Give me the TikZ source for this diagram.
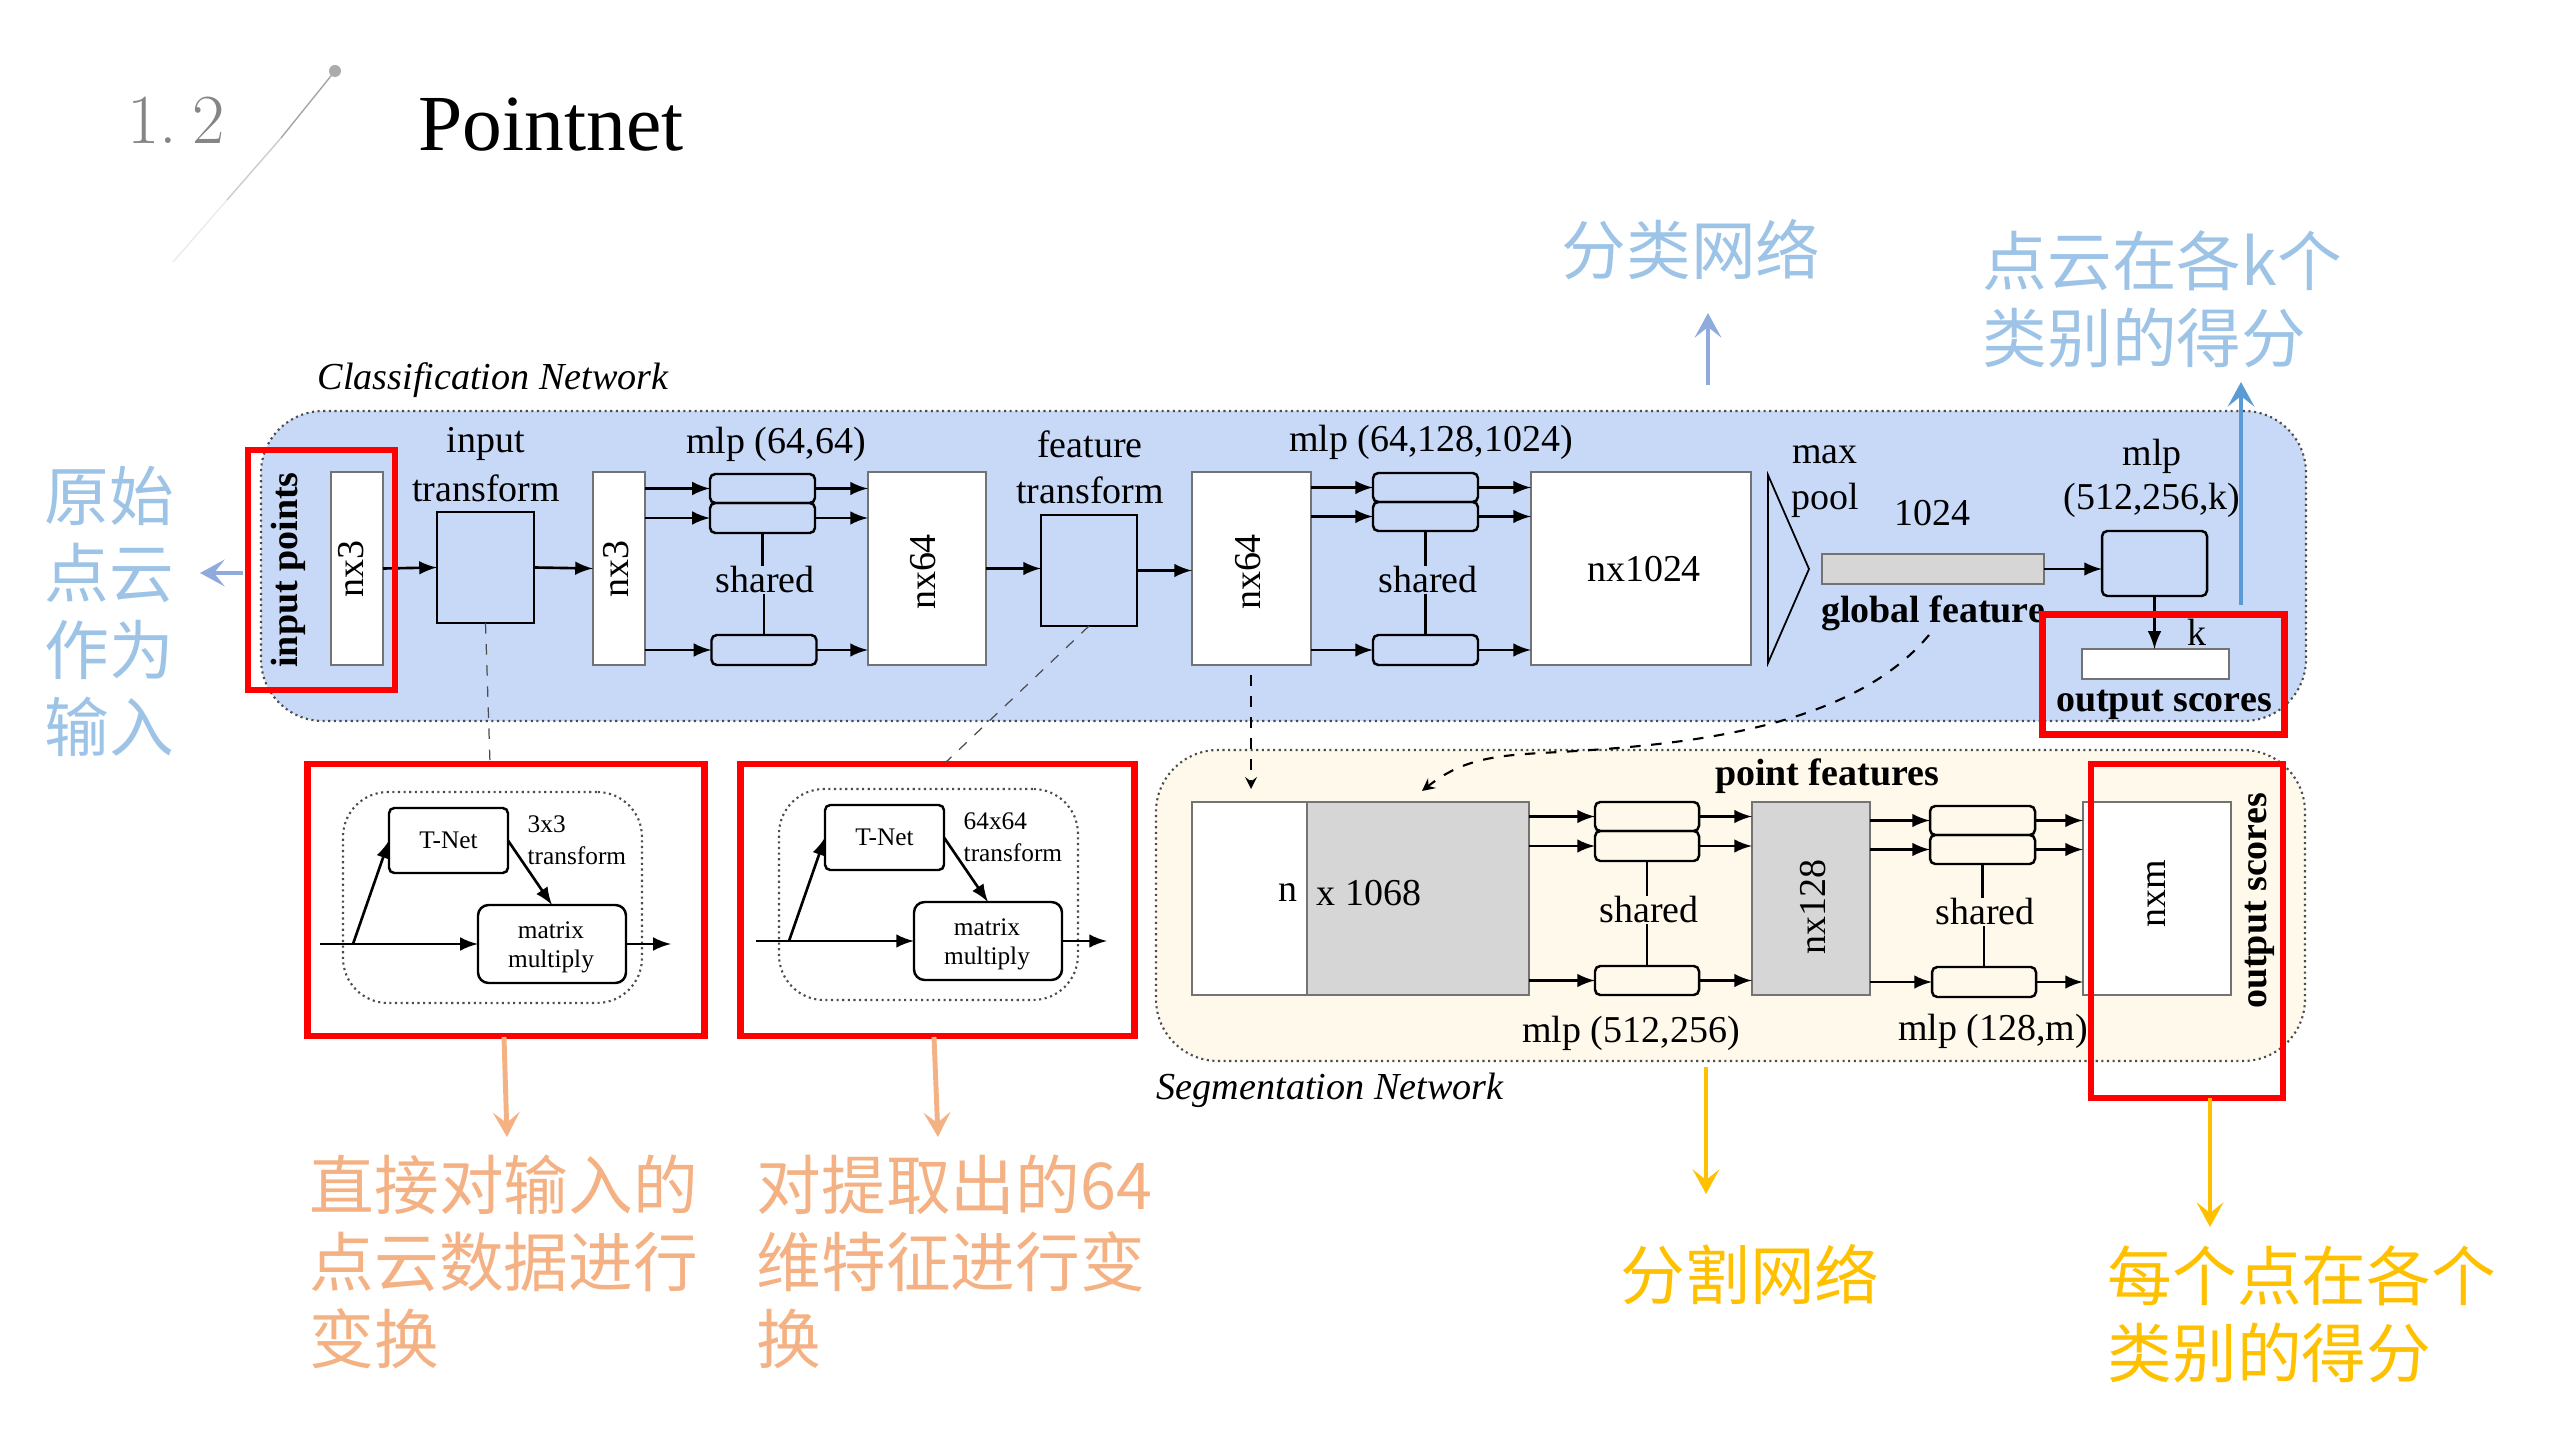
\documentclass[tikz,border=0pt]{standalone}
\usepackage{fontspec}
\usetikzlibrary{arrows.meta}
\setmainfont{Liberation Serif}
\newfontfamily\cjk{Noto Sans CJK SC}
\newfontfamily\lmfam[WordSpace=0.35]{Latin Modern Roman}
\definecolor{panelblue}{HTML}{C8D9F7}
\definecolor{panelcream}{HTML}{FFF9EC}
\definecolor{barygray}{HTML}{D6D6D6}
\definecolor{skyblue}{HTML}{9DC3E6}
\definecolor{arrowblue}{HTML}{8FAADC}
\definecolor{strongblue}{HTML}{5B9BD5}
\definecolor{peach}{HTML}{F4B183}
\definecolor{amber}{HTML}{FFC000}
\tikzset{
  wh/.style n args={2}{minimum width=#1*0.01cm, minimum height=#2*0.01cm, inner sep=0pt, outer sep=0pt},
  lbl/.style={font=\fontsize{10.8}{12}\selectfont, inner sep=0pt},
  lblb/.style={font=\bfseries\fontsize{10.8}{12}\selectfont, inner sep=0pt},
  lbli/.style={font=\itshape\fontsize{10.85}{12}\selectfont, inner sep=0pt},
  lbls/.style={font=\fontsize{7.2}{8}\selectfont, inner sep=0pt},
  blk/.style={draw=black!55, line width=0.7pt, fill=white},
  mlp/.style={draw=black, line width=0.7pt, rounded corners=1.5pt},
  panel/.style={draw=black!70, densely dotted, line width=0.6pt, rounded corners=0.62cm},
  redbox/.style={draw=red, line width=1.8pt},
  arr/.style={-latex, line width=0.75pt},
  dlink/.style={dashed, line width=0.35pt, draw=black!70},
  cn/.style={font=\cjk\fontsize{18.4}{21.9}\selectfont, align=left, inner sep=0pt, anchor=west},
  up/.style={-{Stealth[length=7pt, width=7.6pt, inset=3pt]}, line width=1.4pt}
}
\begin{document}
\begin{tikzpicture}[x=0.01cm, y=-0.01cm]
\useasboundingbox (0,0) rectangle (2560,1440);
%title
\draw[black!35, line width=0.4pt] (335,71) -- (281,138);
\draw[black!20, line width=0.4pt] (281,138) -- (227,200);
\draw[black!8, line width=0.4pt] (227,200) -- (173,262);
\fill[black!33] (335,71) circle (6);
\node[font=\lmfam\fontsize{20}{22}\selectfont, text=black!48, inner sep=0pt] (num) at (176,120) {1. 2};
\node[font=\fontsize{22.6}{24}\selectfont, inner sep=0pt] (title) at (551,125) {Pointnet};
%---------------------------------------------------------
%panels
\node[panel, fill=panelblue, wh={2045}{310}] (clspanel) at (1283.5,566) {};
\node[panel, fill=panelcream, wh={1149}{311}] (segpanel) at (1730.5,905.5) {};
\node[lbli] (clsname) at (493,380) {Classification Network};
\node[lbli] (segname) at (1330,1090) {Segmentation Network};
%---------------------------------------------------------
%upper row
\node[lblb, rotate=90] (inpts) at (288,570) {input points};
\node[blk, wh={52}{193}] (nxa) at (357,568.5) {};
\node[lbl, rotate=90] at (351,569) {nx3};
\node[draw=black, line width=0.7pt, wh={97}{111}] (intr) at (485.5,567.5) {};
\node[blk, wh={52}{193}] (nxb) at (619,568.5) {};
\node[lbl, rotate=90] at (616,569) {nx3};
\node[lbl] (intxta) at (486,444) {input};
\node[lbl] (intxtb) at (486,488) {transform};
\node[lbl] (mlpa) at (776,444) {mlp (64,64)};
\node[mlp, wh={105}{29}] (ma) at (762.5,488.5) {};
\node[mlp, wh={105}{30}] (mb) at (762.5,518) {};
\node[mlp, wh={105}{30}] (mc) at (764,650) {};
\node[lbl] (sha) at (765,580) {shared};
\node[blk, wh={118}{193}] (nxc) at (927,568.5) {};
\node[lbl, rotate=90] at (923,572) {nx64};
\node[lbl] (fttxta) at (1090,444) {feature};
\node[lbl] (fttxtb) at (1090,490) {transform};
\node[draw=black, line width=0.7pt, wh={96}{111}] (fttr) at (1089,570.5) {};
\node[blk, wh={119}{193}] (nxd) at (1251.5,568.5) {};
\node[lbl, rotate=90] at (1248,572) {nx64};
\node[lbl] (mlpb) at (1431,442) {mlp (64,128,1024)};
\node[mlp, wh={105}{29}] (md) at (1425.5,487.5) {};
\node[mlp, wh={105}{29}] (me) at (1425.5,516.5) {};
\node[mlp, wh={105}{30}] (mf) at (1425.5,650) {};
\node[lbl] (shb) at (1428,580) {shared};
\node[blk, wh={220}{193}] (nxe) at (1641,568.5) {};
\node[lbl] at (1644,569) {nx1024};
%max pool
\draw[line width=0.5pt] (1768,475) -- (1809,569) -- (1768,663) -- cycle;
\node[lbl] (maxtxt) at (1825,455) {max};
\node[lbl] (pooltxt) at (1825,500) {pool};
\node[lbl] (gfnum) at (1932,513) {1024};
\node[blk, fill=barygray, wh={222}{30}] (gf) at (1933,569) {};
\node[lblb] (gftxt) at (1933,613) {global feature};
\node[lbl] (mlpc) at (2152,456) {mlp};
\node[lbl] (mlpd) at (2152,500) {(512,256,k)};
\node[mlp, wh={105}{65}] (mg) at (2154.5,563.5) {};
\node[lbl] (ktxt) at (2197,632) {k};
\node[blk, wh={147}{30}] (os) at (2155.5,664) {};
\node[lblb] (ostxt) at (2164,705) {output scores};
%---------------------------------------------------------
%upper row arrows
\draw[arr] (nxa.east) -- (intr.west);
\draw[arr] (intr.east) -- (nxb.west);
\draw[arr] (nxb.east |- ma.west) -- (ma.west);
\draw[arr] (nxb.east |- mb.west) -- (mb.west);
\draw[arr] (nxb.east |- mc.west) -- (mc.west);
\draw[arr] (ma.east) -- (nxc.west |- ma.east);
\draw[arr] (mb.east) -- (nxc.west |- mb.east);
\draw[arr] (mc.east) -- (nxc.west |- mc.east);
\draw[line width=0.7pt] (mb.south) -- (mb.south |- sha.north);
\draw[line width=0.7pt] (mc.north |- sha.south) -- (mc.north);
\draw[arr] (nxc.east) -- (nxc.east -| fttr.west);
\draw[arr] (fttr.east) -- (fttr.east -| nxd.west);
\draw[arr] (nxd.east |- md.west) -- (md.west);
\draw[arr] (nxd.east |- me.west) -- (me.west);
\draw[arr] (nxd.east |- mf.west) -- (mf.west);
\draw[arr] (md.east) -- (nxe.west |- md.east);
\draw[arr] (me.east) -- (nxe.west |- me.east);
\draw[arr] (mf.east) -- (nxe.west |- mf.east);
\draw[line width=0.7pt] (me.south) -- (me.south |- shb.north);
\draw[line width=0.7pt] (mf.north |- shb.south) -- (mf.north);
\draw[arr] (gf.east) -- (gf.east -| mg.west);
\draw[arr] (mg.south) -- (mg.south |- os.north);
%---------------------------------------------------------
%T-Net insets
\node[draw=black!70, densely dotted, line width=0.6pt, rounded corners=0.45cm, wh={299}{211}] (inseta) at (492.5,897.5) {};
\node[mlp, wh={119}{65}] (tna) at (448.5,840.5) {};
\node[lbls] at (tna) {T-Net};
\node[mlp, rounded corners=3pt, wh={148}{78}] (mxa) at (552,944) {};
\node[lbls] at (551,930) {matrix};
\node[lbls] at (551,961) {multiply};
\node[lbls, anchor=west] at (527,824) {3x3};
\node[lbls, anchor=west] at (527,856) {transform};
\coordinate (ina) at (320,944);
\coordinate (joina) at (353,944);
\coordinate (outa) at (671,944);
\draw[arr] (ina) -- (mxa.west);
\draw[arr] (joina) -- (tna.west);
\draw[arr] (tna.east) -- (mxa.north);
\draw[arr] (mxa.east) -- (outa);
%
\node[draw=black!70, densely dotted, line width=0.6pt, rounded corners=0.45cm, wh={299}{211}] (insetb) at (928.5,894.5) {};
\node[mlp, wh={119}{65}] (tnb) at (884.5,837.5) {};
\node[lbls] at (tnb) {T-Net};
\node[mlp, rounded corners=3pt, wh={148}{78}] (mxb) at (988,941) {};
\node[lbls] at (987,927) {matrix};
\node[lbls] at (987,958) {multiply};
\node[lbls, anchor=west] at (963,821) {64x64};
\node[lbls, anchor=west] at (963,853) {transform};
\coordinate (inb) at (756,941);
\coordinate (joinb) at (789,941);
\coordinate (outb) at (1107,941);
\draw[arr] (inb) -- (mxb.west);
\draw[arr] (joinb) -- (tnb.west);
\draw[arr] (tnb.east) -- (mxb.north);
\draw[arr] (mxb.east) -- (outb);
%---------------------------------------------------------
%lower row
\node[blk, wh={115}{193}] (cona) at (1249.5,898.5) {};
\node[blk, fill=barygray, wh={222}{193}] (conb) at (1418,898.5) {};
\node[lbl] (contxa) at (1288,893) {n};
\node[lbl] (contxb) at (1369,893) {x 1068};
\node[lblb] (pftxt) at (1827,776) {point features};
\node[mlp, wh={104}{29}] (sa) at (1647,816.5) {};
\node[mlp, wh={104}{30}] (sb) at (1647,846) {};
\node[mlp, wh={104}{29}] (sc) at (1647,980.5) {};
\node[lbl] (shc) at (1649,910) {shared};
\node[lbl] (mlpe) at (1631,1033) {mlp (512,256)};
\node[blk, fill=barygray, wh={118}{193}] (nxf) at (1811,898.5) {};
\node[lbl, rotate=90] at (1813,907) {nx128};
\node[mlp, wh={105}{29}] (sd) at (1982.5,820.5) {};
\node[mlp, wh={105}{29}] (se) at (1982.5,849.5) {};
\node[mlp, wh={104}{30}] (sf) at (1984,982) {};
\node[lbl] (shd) at (1985,912) {shared};
\node[lbl] (mlpf) at (1993,1031) {mlp (128,m)};
\node[blk, wh={148}{193}] (nxg) at (2157,898.5) {};
\node[lbl, rotate=90] at (2157,894) {nxm};
\node[lblb, rotate=90] (osseg) at (2260,901) {output scores};
%lower row arrows
\draw[arr] (conb.east |- sa.west) -- (sa.west);
\draw[arr] (conb.east |- sb.west) -- (sb.west);
\draw[arr] (conb.east |- sc.west) -- (sc.west);
\draw[arr] (sa.east) -- (nxf.west |- sa.east);
\draw[arr] (sb.east) -- (nxf.west |- sb.east);
\draw[arr] (sc.east) -- (nxf.west |- sc.east);
\draw[line width=0.7pt] (sb.south) -- (sb.south |- shc.north);
\draw[line width=0.7pt] (sc.north |- shc.south) -- (sc.north);
\draw[arr] (nxf.east |- sd.west) -- (sd.west);
\draw[arr] (nxf.east |- se.west) -- (se.west);
\draw[arr] (nxf.east |- sf.west) -- (sf.west);
\draw[arr] (sd.east) -- (nxg.west |- sd.east);
\draw[arr] (se.east) -- (nxg.west |- se.east);
\draw[arr] (sf.east) -- (nxg.west |- sf.east);
\draw[line width=0.7pt] (se.south) -- (se.south |- shd.north);
\draw[line width=0.7pt] (sf.north |- shd.south) -- (sf.north);
%---------------------------------------------------------
%red boxes
\node[redbox, wh={147}{240}] (ra) at (321.5,570) {};
\node[redbox, wh={242}{120}] (rb) at (2163.5,674.5) {};
\node[redbox, wh={397}{272}] (rc) at (506,900) {};
\node[redbox, wh={394}{272}] (rd) at (937.5,900) {};
\node[redbox, wh={192}{334}] (re) at (2187,931) {};
%dashed links
\coordinate (inlink) at (490,763);
\coordinate (ftlink) at (945,763);
\draw[dlink] (intr.south) -- (inlink);
\draw[dlink] (fttr.south) -- (ftlink);
\coordinate (dropa) at (1251,675);
\coordinate (dropb) at (1251,789);
\draw[dlink, draw=black, line width=0.5pt, -stealth] (dropa) -- (dropb);
\coordinate (curvea) at (1929,635);
\coordinate (curveb) at (1560,752);
\coordinate (curvec) at (1422,791);
\draw[dashed, line width=0.6pt, -stealth] (curvea) .. controls (1850,730) and (1680,745) .. (curveb) .. controls (1500,755) and (1465,757) .. (curvec);
%---------------------------------------------------------
%call-outs
\node[cn, text=skyblue] (cna) at (44,611) {原始\\点云\\作为\\输入};
\node[cn, text=skyblue] (cnb) at (1561,250) {分类网络};
\node[cn, text=skyblue] (cnc) at (1982,299) {点云在各k个\\类别的得分};
\node[cn, text=peach] (cnd) at (309,1262) {直接对输入的\\点云数据进行\\变换};
\node[cn, text=peach] (cne) at (756,1262) {对提取出的64\\维特征进行变\\换};
\node[cn, text=amber] (cnf) at (1620,1275) {分割网络};
\node[cn, text=amber] (cng) at (2107,1314) {每个点在各个\\类别的得分};
\coordinate (ta) at (1708,385);
\coordinate (tb) at (1708,313);
\coordinate (tc) at (2241,605);
\coordinate (td) at (2241,382);
\coordinate (te) at (243,573);
\coordinate (tf) at (200,573);
\coordinate (tg) at (1706,1067);
\coordinate (th) at (1706,1194);
\coordinate (ti) at (2210,1098);
\coordinate (tj) at (2210,1227);
\coordinate (tk) at (504,1037);
\coordinate (tl) at (507,1137);
\coordinate (tm) at (934,1037);
\coordinate (tn) at (938,1137);
\draw[up, arrowblue] (ta) -- (tb);
\draw[up, strongblue] (tc) -- (td);
\draw[up, arrowblue] (te) -- (tf);
\draw[up, amber] (tg) -- (th);
\draw[up, amber] (ti) -- (tj);
\draw[up, peach] (tk) -- (tl);
\draw[up, peach] (tm) -- (tn);
\end{tikzpicture}
\end{document}
